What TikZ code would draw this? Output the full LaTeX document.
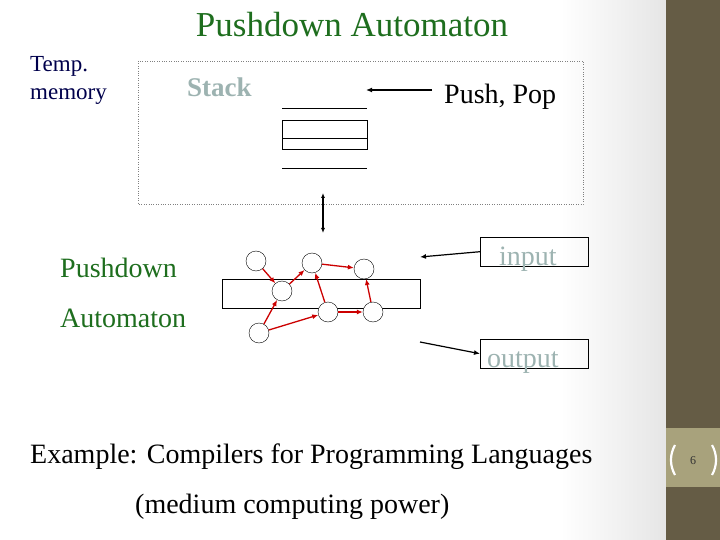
\documentclass[tikz,border=0pt]{standalone}
\usepackage{fontspec}
\setmainfont{Liberation Serif}
\usetikzlibrary{arrows.meta}
\definecolor{ttl}{HTML}{1E6E1E}
\definecolor{olive}{HTML}{655C45}
\definecolor{olivel}{HTML}{A8A27C}
\definecolor{stk}{HTML}{9DB3B1}
\definecolor{io}{HTML}{9DB3B1}
\begin{document}
\begin{tikzpicture}[x=1pt,y=-1pt,
  st/.style={circle,draw,minimum size=20pt,inner sep=0pt,fill=white},
  ra/.style={draw=red!80!black,line width=1.3pt,-{Latex[length=6pt,width=5pt]}},
  ba/.style={line width=1.2pt,-{Latex[length=6pt,width=5pt]}},
  txt/.style={inner sep=0pt,anchor=base west}]
\useasboundingbox (0,0) rectangle (720,540);
\fill[white] (0,0) rectangle (560,540);
\shade[left color=white,right color=black!10] (560,0) rectangle (666,540);
\fill[olive] (666,0) rectangle (720,540);
\fill[olivel] (666,428) rectangle (720,487);
\draw[white,line width=2.2pt] (675,445) arc[start angle=210,end angle=150,radius=30];
\draw[white,line width=2.2pt] (712,445) arc[start angle=-30,end angle=30,radius=30];
\node[font=\fontsize{12}{12}\selectfont,text=black!80,anchor=center] (pg) at (693,461) {6};
\node[font=\fontsize{35}{35}\selectfont,text=ttl,anchor=base] (title) at (352,37) {Pushdown Automaton};
\node[txt,font=\fontsize{23}{23}\selectfont,text=blue!30!black] (t1) at (30,72) {Temp.};
\node[txt,font=\fontsize{23}{23}\selectfont,text=blue!30!black] (t2) at (30,100) {memory};
\draw[gray,dotted] (138,61) rectangle (583,204);
\node[txt,font=\bfseries\fontsize{27}{27}\selectfont,text=stk] (stack) at (187,97) {Stack};
\node[txt,font=\fontsize{28}{28}\selectfont] (pp) at (444,104) {Push, Pop};
\coordinate (s1) at (282,108); \coordinate (s2) at (367,108);
\draw (s1) -- (s2);
\draw (282,120) rectangle (367,149);
\draw (282,138) -- (367,138);
\draw (282,168) -- (367,168);
\coordinate (pa) at (432,90); \coordinate (pb) at (366,90);
\draw[ba] (pa) -- (pb);
\coordinate (da) at (323,193); \coordinate (db) at (323,233);
\draw[line width=1.2pt,{Latex[length=5pt,width=4pt]}-{Latex[length=5pt,width=4pt]}] (da) -- (db);
\node[txt,font=\fontsize{28}{28}\selectfont,text=ttl] (pd1) at (60,277) {Pushdown};
\node[txt,font=\fontsize{28}{28}\selectfont,text=ttl] (pd2) at (60,327) {Automaton};
\draw (222,279) rectangle (420,308);
\node[st] (c1) at (256,261) {};
\node[st] (c2) at (282,291) {};
\node[st] (c3) at (312,263) {};
\node[st] (c4) at (364,269) {};
\node[st] (c5) at (328,312) {};
\node[st] (c6) at (373,312) {};
\node[st] (c7) at (259,333) {};
\draw[ra] (c1) -- (c2);
\draw[ra] (c2) -- (c3);
\draw[ra] (c3) -- (c4);
\draw[ra] (c7) -- (c2);
\draw[ra] (c7) -- (c5);
\draw[ra] (c5) -- (c3);
\draw[ra] (c5) -- (c6);
\draw[ra] (c6) -- (c4);
\node[draw,minimum width=108pt,minimum height=29pt,anchor=north west,inner sep=0pt] (in) at (480,237) {};
\node[txt,font=\fontsize{28}{28}\selectfont,text=io] (inl) at (499,265) {input};
\node[draw,minimum width=108pt,minimum height=29pt,anchor=north west,inner sep=0pt] (out) at (480,339) {};
\node[txt,font=\fontsize{28}{28}\selectfont,text=io] (outl) at (487,367) {output};
\coordinate (ia) at (420,257);
\draw[ba] (in.west) -- (ia);
\coordinate (oa) at (420,342);
\draw[ba] (oa) -- (out.west);
\node[txt,font=\fontsize{28}{28}\selectfont] (ex) at (30,463) {Example: Compilers for Programming Languages};
\node[txt,font=\fontsize{28}{28}\selectfont] (ex2) at (135,513) {(medium computing power)};
\end{tikzpicture}
\end{document}
